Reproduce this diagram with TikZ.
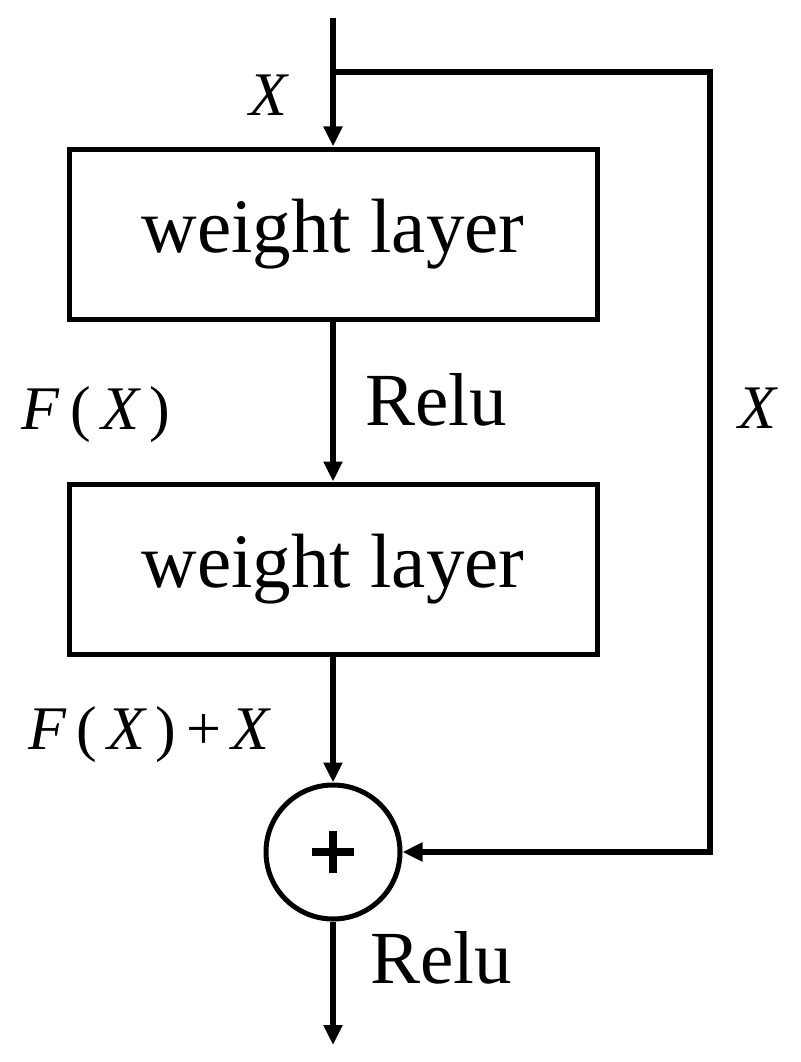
\documentclass[tikz,border=0pt]{standalone}
\usepackage{fontspec}
\setmainfont{Liberation Serif}
\usetikzlibrary{arrows.meta}
\begin{document}
\begin{tikzpicture}[x=1pt,y=-1pt,
  ln/.style={line width=6pt},
  arr/.style={ln,-{Triangle[length=20pt,width=18pt]}},
  box/.style={draw,line width=5pt,minimum width=528pt,minimum height=170pt,font=\fontsize{77}{84}\selectfont},
  lab/.style={font=\fontsize{75}{82}\selectfont},
  mth/.style={font=\fontsize{62}{70}\selectfont\itshape}]
\useasboundingbox (0,0) rectangle (800,1062);
\coordinate (top) at (333,18);
\coordinate (split) at (333,72);
\coordinate (c1) at (710,72);
\coordinate (c2) at (710,852);
\coordinate (out) at (333,1045);
\node[box] (b1) at (333,234) {weight layer};
\node[box] (b2) at (333,569) {weight layer};
\node[draw,circle,line width=5pt,minimum size=134pt,inner sep=0pt] (sum) at (333,852) {};
\draw[line width=8pt] (312,852) -- (354,852) (333,831) -- (333,873);
\draw[arr] (top) -- (b1.north);
\draw[arr] (b1.south) -- (b2.north);
\draw[arr] (b2.south) -- (sum.north);
\draw[arr] (sum.south) -- (out);
\draw[arr,line join=miter] (split) -- (c1) -- (c2) -- (sum.east);
\node[mth] (l1) at (268,95) {X};
\node[lab] (l2) at (436,400) {Relu};
\node[mth] (l3) at (96,415) {F\,\upshape(\,\itshape X\upshape\,)};
\node[mth] (l4) at (757,408) {X};
\node[mth] (l5) at (149,735) {F\,\upshape(\,\itshape X\upshape\,)\,+\,\itshape X};
\node[lab] (l6) at (441,958) {Relu};
\end{tikzpicture}
\end{document}
